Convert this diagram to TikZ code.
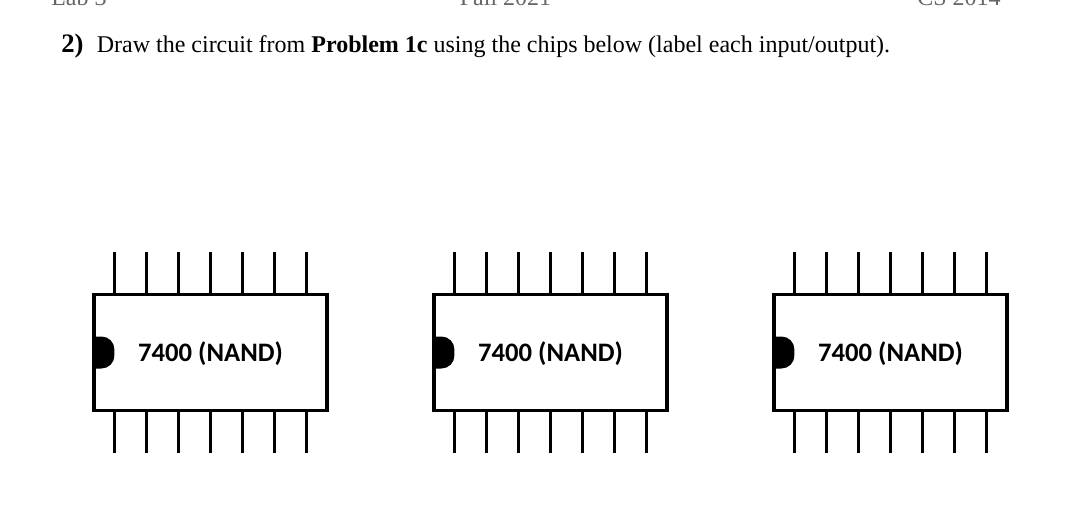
\documentclass[tikz,border=0pt]{standalone}
\usepackage{fontspec}
\setmainfont{Liberation Serif}
\newfontfamily\chipfont{Carlito}
\usetikzlibrary{calc}
\tikzset{
    px/.style={x=0.75pt, y=-0.75pt},
    chip/.style={rectangle, draw, line width=2.6pt, fill=white, minimum width=174.5pt, minimum height=87pt, inner sep=0pt},
    chip label/.style={font=\chipfont\bfseries\fontsize{20}{22}\selectfont, inner sep=0pt},
    pin/.style={line width=2.4pt},
    notch/.style={fill=black, draw=none},
    header text/.style={font=\fontsize{18}{20}\selectfont, text=black!60, inner sep=0pt},
    question text/.style={font=\fontsize{18}{20}\selectfont, inner sep=0pt, anchor=base west}
}
\begin{document}
\begin{tikzpicture}[px]
    \useasboundingbox (0,0) rectangle (1088,510);

    % Page header, cut off at the top
    \begin{scope}
        \clip (0,0) rectangle (1088,510);
        \node[header text, anchor=base west] (lab) at (51,6) {Lab 3};
        \node[header text, anchor=base] (term) at (505.5,6) {Fall 2021};
        \node[header text, anchor=base east] (course) at (1001,6) {CS 2014};
    \end{scope}

    % Question line
    \node[question text] (question) at (61,52.5) {\textbf{\fontsize{20}{20}\selectfont 2)}\hspace{10pt}Draw the circuit from \textbf{Problem 1c} using the chips below (label each input/output).};

    % Chips with pins
    \foreach \n/\x in {A/210.5, B/550.5, C/890.5} {
        \foreach \i in {-3,...,3} {
            \coordinate (\n-top-\i) at ({\x+\i*32},252);
            \coordinate (\n-bot-\i) at ({\x+\i*32},453);
            \draw[pin] (\n-top-\i) -- ({\x+\i*32},294);
            \draw[pin] ({\x+\i*32},410) -- (\n-bot-\i);
        }
        \node[chip] (\n) at (\x,352.5) {};
        \node[chip label] (\n-label) at ({\x},354) {7400 (NAND)};
        % Notch on the left side
        \fill[notch] ($(\n.west)+(0,-16)$) -- ++(9,0) arc[start angle=-90, end angle=0, radius=13]
            -- ++(0,6) arc[start angle=0, end angle=90, radius=13] -- ++(-9,0) -- cycle;
    }
\end{tikzpicture}
\end{document}
